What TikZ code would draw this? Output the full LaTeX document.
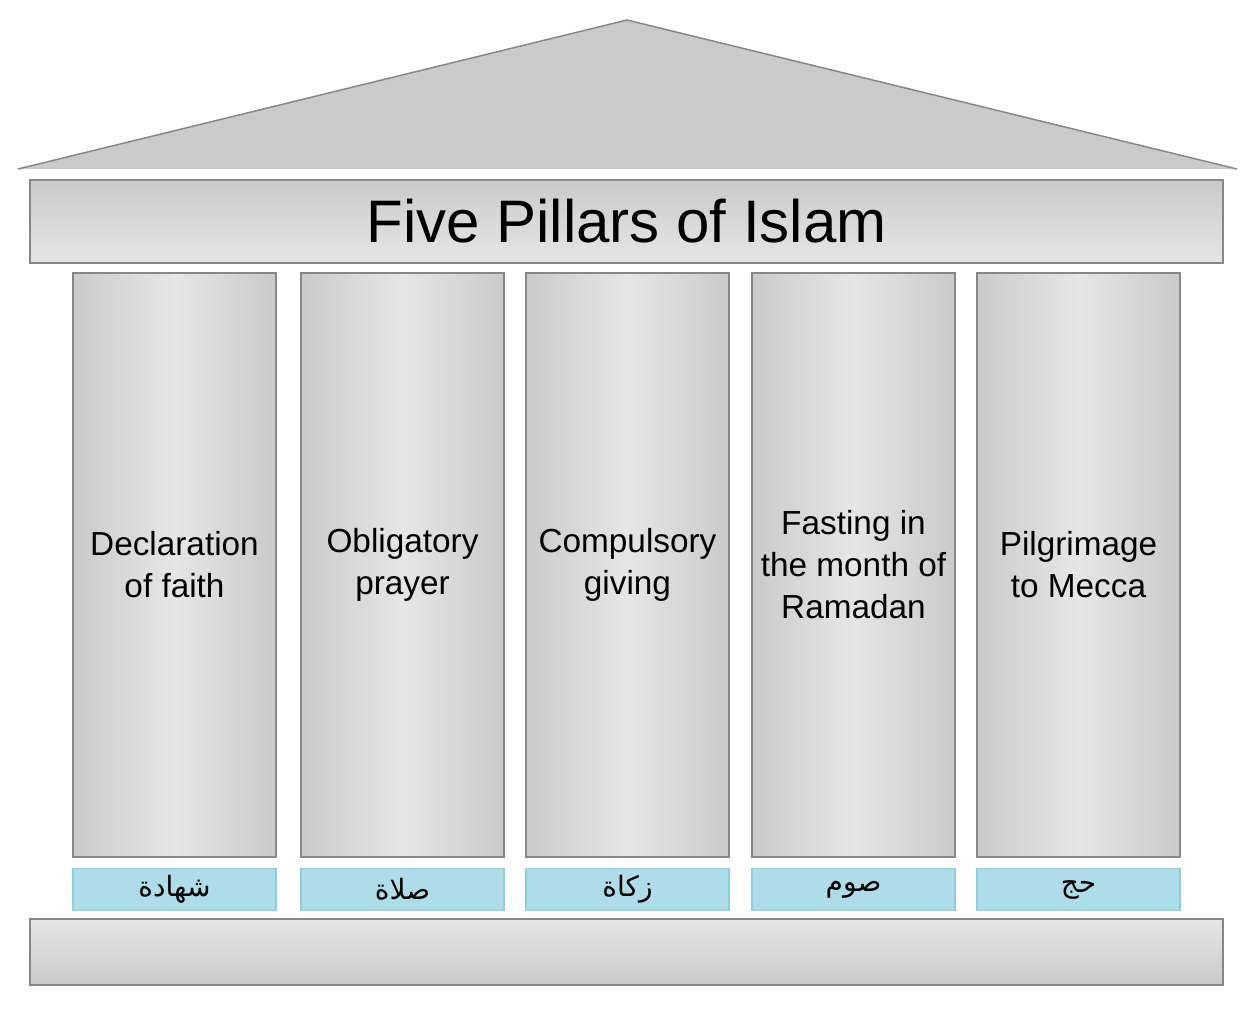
\documentclass[tikz,border=0pt]{standalone}
\usepackage{fontspec}
\setmainfont{Liberation Sans}
\newfontfamily\arabicfont[Script=Arabic]{DejaVu Sans}
\TeXXeTstate=1
\usetikzlibrary{positioning}
\definecolor{templegray}{RGB}{202,202,202}
\definecolor{templelight}{RGB}{230,230,230}
\definecolor{templeline}{RGB}{135,135,135}
\definecolor{labelblue}{RGB}{174,220,232}
\definecolor{labelline}{RGB}{140,206,222}

\begin{document}
\begin{tikzpicture}[x=0.75pt, y=-0.75pt,
  pillar/.style={draw=templeline, line width=1.1pt,
    left color=templegray, right color=templegray, middle color=templelight,
    minimum width=152.25pt, minimum height=438pt, align=center,
    font=\fontsize{25}{31.5}\selectfont},
  arlabel/.style={draw=labelline, line width=1.1pt, fill=labelblue,
    minimum width=152.25pt, minimum height=31.5pt, inner sep=0pt,
    font=\arabicfont\fontsize{21}{24}\selectfont}]
\useasboundingbox (0,0) rectangle (1254,1024);
% Roof
\coordinate (roofL) at (18,169);
\coordinate (roofT) at (627,20);
\coordinate (roofR) at (1237,169);
\fill[templegray] (roofL) -- (roofT) -- (roofR) -- cycle;
\draw[templeline, line width=1.1pt] (roofL) -- (roofT) -- (roofR);
% Architrave with title
\node[draw=templeline, line width=1.1pt, top color=templegray, bottom color=templelight,
      minimum width=894.75pt, minimum height=62.25pt,
      font=\fontsize{45}{54}\selectfont] (title) at (626.5,221.5) {Five Pillars of Islam};
% Pillars and Arabic names
\foreach \i/\cx/\txt/\ar in {1/174.5/{Declaration\\of faith}/{شهادة},
    2/402.5/{Obligatory\\prayer}/{صلاة},
    3/627.5/{Compulsory\\giving}/{زكاة},
    4/853.5/{Fasting in\\the month of\\Ramadan}/{صوم},
    5/1078.5/{Pilgrimage\\to Mecca}/{حج}} {
  \node[pillar] (pillar\i) at (\cx,565) {\txt};
  \node[arlabel, below=7.5pt of pillar\i] (name\i) {\beginR\ar\endR};
}
% Base
\node[draw=templeline, line width=1.1pt, top color=templelight, bottom color=templegray,
      minimum width=894.75pt, minimum height=49.5pt] (base) at (626.5,952) {};
\end{tikzpicture}
\end{document}
